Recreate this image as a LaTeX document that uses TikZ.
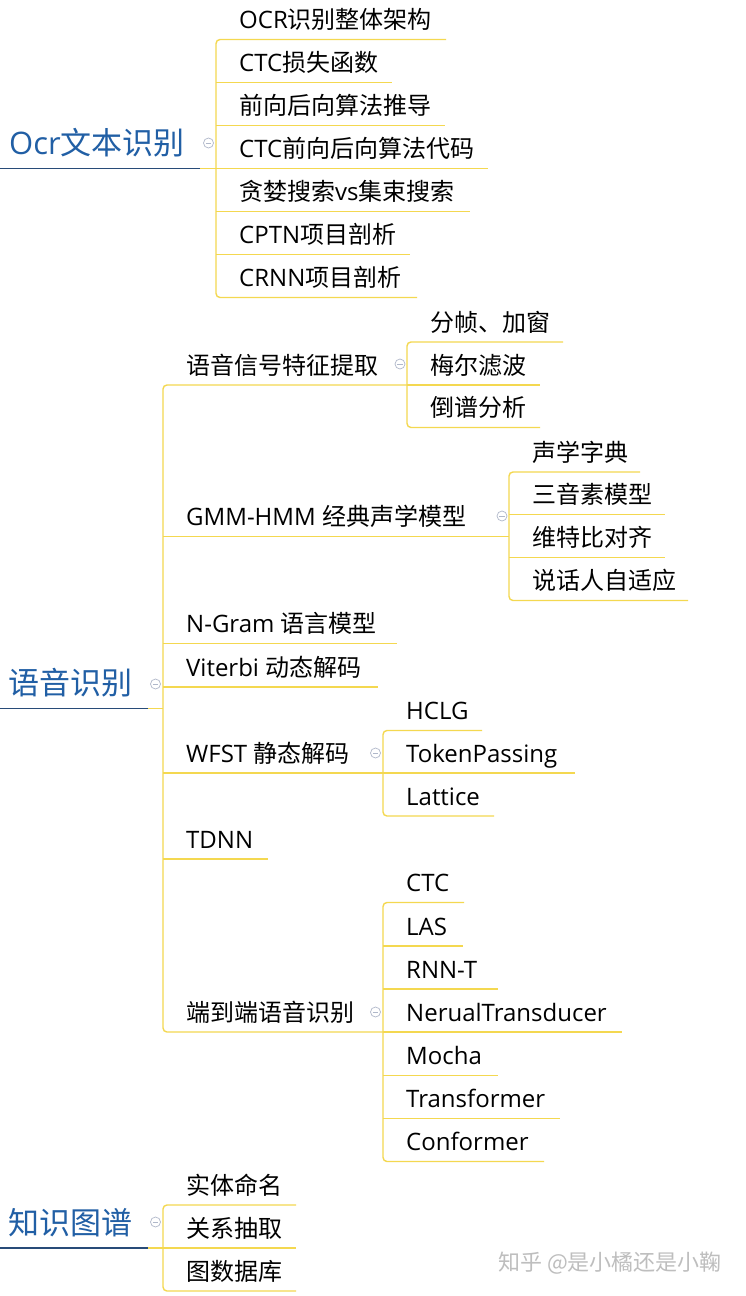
\documentclass[tikz,border=0pt]{standalone}
\usepackage{fontspec}
\setmainfont{Noto Sans CJK SC}
\newfontfamily\lat{Open Sans}
\usetikzlibrary{calc}
\definecolor{lineyel}{RGB}{244,216,80}
\definecolor{topblue}{RGB}{33,95,165}
\definecolor{lineblue}{RGB}{40,75,120}
\definecolor{foldgray}{RGB}{176,184,202}
\definecolor{wmgray}{RGB}{190,190,190}
\newcommand\kidsize{\fontsize{24pt}{28pt}\selectfont}
\newcommand\hdsize{\fontsize{31pt}{36pt}\selectfont}
\newcommand\wmsize{\fontsize{22pt}{26pt}\selectfont}
% underline of a middle child: from the bar (23 left of text) over #2
\newcommand\ulk[2]{\draw[ul] ($(#1.base west)+(-23,11)$) -- ($(#1.base west)+(#2-23,11)$);}
% bar joining first child #1 (length #2) to last child #3 (length #4)
\newcommand\bark[4]{\draw[ul,rounded corners=4pt] ($(#1.base west)+(#2-23,11)$) -- ($(#1.base west)+(-23,11)$) -- ($(#3.base west)+(-23,11)$) -- ($(#3.base west)+(#4-23,11)$);}
\begin{document}
\begin{tikzpicture}[x=1pt,y=-1pt,
  kid/.style={inner sep=0pt, anchor=base west, font=\kidsize, text=black},
  hd/.style={inner sep=0pt, anchor=base west, font=\hdsize, text=topblue},
  ul/.style={draw=lineyel, line width=1.4pt},
  tul/.style={draw=lineblue, line width=1.4pt},
  fold/.style={circle, draw=foldgray, line width=0.7pt, minimum size=10pt, inner sep=0pt,
    path picture={\draw[foldgray, line width=0.7pt] ([xshift=-2.6pt]path picture bounding box.center) -- ([xshift=2.6pt]path picture bounding box.center);}},
  wm/.style={inner sep=0pt, anchor=base west, font=\wmsize, text=wmgray}]
\useasboundingbox[fill=white] (0,0) rectangle (746,1296);

% ---------------- Ocr group ----------------
\node[hd] (o) at (9,154.5) {{\lat Ocr}文本识别};
\node[fold] (of) at (208.5,143) {};
\node[kid] (o1) at (239,28.5) {{\lat OCR}识别整体架构};
\node[kid] (o2) at (239,71.5) {{\lat CTC}损失函数};
\node[kid] (o3) at (239,114.5) {前向后向算法推导};
\node[kid] (o4) at (239,157.5) {{\lat CTC}前向后向算法代码};
\node[kid] (o5) at (239,200.5) {贪婪搜索{\lat vs}集束搜索};
\node[kid] (o6) at (239,243.5) {{\lat CPTN}项目剖析};
\node[kid] (o7) at (239,286.5) {{\lat CRNN}项目剖析};
\draw[tul] ($(o.base west)+(-9,14)$) -- ($(o.base west)+(191,14)$);
\draw[ul] ($(o.base west)+(191,14)$) -- ($(o4.base west)+(-23,11)$);
\bark{o1}{230}{o7}{201}
\ulk{o2}{176}
\ulk{o3}{229}
\ulk{o4}{272}
\ulk{o5}{254}
\ulk{o6}{194}

% ---------------- 语音识别 group ----------------
\node[hd] (s) at (8,694.5) {语音识别};
\node[fold] (sf) at (155.5,684) {};
\node[kid] (a) at (186,374) {语音信号特征提取};
\node[fold] (af) at (400,364) {};
\node[kid] (a1) at (430,331) {分帧、加窗};
\node[kid] (a2) at (430,374) {梅尔滤波};
\node[kid] (a3) at (430,416.5) {倒谱分析};
\node[kid] (b) at (186,525.5) {{\lat GMM-HMM }经典声学模型};
\node[fold] (bf) at (502,516) {};
\node[kid] (b1) at (532,461) {声学字典};
\node[kid] (b2) at (532,503.5) {三音素模型};
\node[kid] (b3) at (532,546.5) {维特比对齐};
\node[kid] (b4) at (532,589.5) {说话人自适应};
\node[kid] (c) at (186,632.5) {{\lat N-Gram }语言模型};
\node[kid] (d) at (186,676) {{\lat Viterbi }动态解码};
\node[kid] (e) at (186,762) {{\lat WFST }静态解码};
\node[fold] (ef) at (375.5,753) {};
\node[kid] (e1) at (406,719.5) {\lat HCLG};
\node[kid] (e2) at (406,762) {\lat TokenPassing};
\node[kid] (e3) at (406,805) {\lat Lattice};
\node[kid] (f) at (186,848) {\lat TDNN};
\node[kid] (g) at (186,1021) {端到端语音识别};
\node[fold] (gf) at (375.5,1012) {};
\node[kid] (g1) at (406,891.5) {\lat CTC};
\node[kid] (g2) at (406,935) {\lat LAS};
\node[kid] (g3) at (406,978) {\lat RNN-T};
\node[kid] (g4) at (406,1021) {\lat NerualTransducer};
\node[kid] (g5) at (406,1064.5) {\lat Mocha};
\node[kid] (g6) at (406,1107.5) {\lat Transformer};
\node[kid] (g7) at (406,1150.5) {\lat Conformer};
% top-level underline
\draw[tul] ($(s.base west)+(-8,14)$) -- ($(s.base west)+(140,14)$);
\draw[ul] ($(s.base west)+(140,14)$) -- ($(s.base west)+(155,14)$);
% main bar: from 语音信号特征提取 to 端到端语音识别
\draw[ul,rounded corners=4pt] ($(a2.base west)+(-23,11)$) -- ($(a.base west)+(-23,11)$) -- ($(g.base west)+(-23,11)$) -- ($(g4.base west)+(-23,11)$);
% level-2 underlines
\draw[ul] ($(b.base west)+(-23,11)$) -- ($(b2.base west |- b.base west)+(-23,11)$);
\ulk{c}{234}
\ulk{d}{215}
\draw[ul] ($(e.base west)+(-23,11)$) -- ($(e2.base west)+(-23,11)$);
\ulk{f}{105}
% children of 语音信号特征提取
\bark{a1}{156}{a3}{133}
\ulk{a2}{133}
% children of GMM-HMM
\bark{b1}{131}{b4}{179}
\ulk{b2}{156}
\ulk{b3}{156}
% children of WFST
\bark{e1}{99}{e3}{111}
\ulk{e2}{192}
% children of 端到端
\bark{g1}{81}{g7}{161}
\ulk{g2}{80}
\ulk{g3}{115}
\ulk{g4}{239}
\ulk{g5}{115}
\ulk{g6}{177}

% ---------------- 知识图谱 group ----------------
\node[hd] (k) at (8,1234) {知识图谱};
\node[fold] (kf) at (155.5,1222) {};
\node[kid] (k1) at (186,1194) {实体命名};
\node[kid] (k2) at (186,1237) {关系抽取};
\node[kid] (k3) at (186,1280) {图数据库};
\draw[tul] ($(k.base west)+(-8,14)$) -- ($(k.base west)+(140,14)$);
\draw[ul] ($(k.base west)+(140,14)$) -- ($(k2.base west)+(-23,11)$);
\bark{k1}{133}{k3}{133}
\ulk{k2}{133}

% watermark
\node[wm] (wmk) at (498,1270) {知乎 @是小橘还是小鞠};
\end{tikzpicture}
\end{document}
